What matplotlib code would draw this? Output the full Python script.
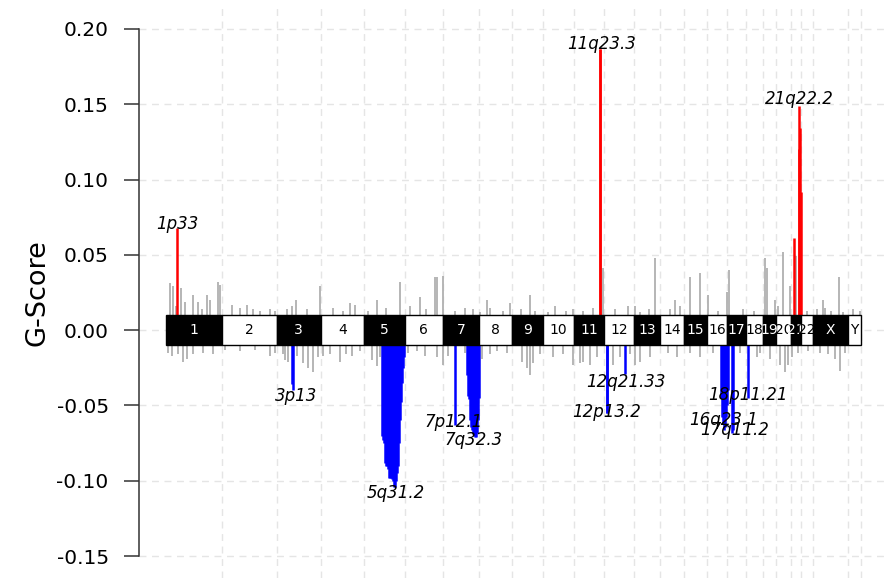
import numpy as np
from matplotlib import pyplot as plt

# chromosome lengths (Mb, hg19)
chroms = ['1', '2', '3', '4', '5', '6', '7', '8', '9', '10', '11', '12',
          '13', '14', '15', '16', '17', '18', '19', '20', '21', '22', 'X', 'Y']
chrom_len = [249.25, 243.2, 198.0, 191.15, 180.9, 171.1, 159.1, 146.4, 141.2,
             135.5, 135.0, 133.85, 115.2, 107.3, 102.5, 90.35, 81.2, 78.1,
             59.1, 63.0, 48.1, 51.3, 155.3, 59.4]

# background G-scores (genome position in Mb, G-score)
amp_pos = [18, 31, 45, 67, 85, 120, 143, 160, 183, 196, 232, 241, 294, 330,
           361, 388, 419, 463, 486, 539, 561, 579, 628, 686, 744, 790, 820,
           842, 900, 940, 980, 1042, 1087, 1131, 1160, 1198, 1207, 1234, 1287,
           1332, 1367, 1400, 1430, 1443, 1500, 1532, 1580, 1621, 1644, 1700,
           1733, 1780, 1813, 1857, 1900, 1946, 2000, 2058, 2089, 2111, 2150,
           2178, 2245, 2267, 2289, 2334, 2378, 2414, 2460, 2499, 2508, 2570,
           2620, 2668, 2677, 2713, 2726, 2748, 2779, 2806, 2855, 2900, 2926,
           2935, 2960, 2998, 3015, 3060, 3091]
amp_g = [0.031, 0.029, 0.016, 0.028, 0.019, 0.023, 0.019, 0.014, 0.023, 0.020,
         0.032, 0.030, 0.017, 0.015, 0.017, 0.014, 0.013, 0.014, 0.013, 0.014,
         0.016, 0.020, 0.014, 0.029, 0.015, 0.013, 0.018, 0.017, 0.013, 0.020,
         0.015, 0.032, 0.016, 0.022, 0.014, 0.035, 0.035, 0.036, 0.013, 0.015,
         0.014, 0.012, 0.020, 0.015, 0.013, 0.018, 0.014, 0.023, 0.013, 0.012,
         0.016, 0.013, 0.014, 0.013, 0.015, 0.041, 0.014, 0.016, 0.016, 0.012,
         0.014, 0.048, 0.014, 0.020, 0.016, 0.035, 0.038, 0.023, 0.013, 0.025,
         0.040, 0.014, 0.013, 0.048, 0.041, 0.020, 0.016, 0.052, 0.029, 0.049,
         0.013, 0.014, 0.020, 0.015, 0.013, 0.035, 0.012, 0.014, 0.013]

del_pos = [9, 27, 53, 76, 94, 120, 165, 209, 263, 330, 396, 463, 486, 521,
           530, 543, 583, 610, 632, 655, 677, 699, 730, 775, 802, 828, 864,
           918, 940, 953, 1078, 1118, 1154, 1207, 1234, 1256, 1332, 1407, 1443,
           1474, 1519, 1586, 1608, 1621, 1635, 1666, 1724, 1768, 1813, 1844,
           1857, 1888, 1920, 1991, 2022, 2067, 2089, 2111, 2156, 2236, 2276,
           2334, 2378, 2436, 2557, 2633, 2646, 2690, 2735, 2757, 2770, 2788,
           2815, 2860, 2913, 2949, 2980, 3002, 3024]
del_g = [-0.015, -0.017, -0.016, -0.021, -0.019, -0.016, -0.015, -0.016,
         -0.013, -0.014, -0.013, -0.017, -0.015, -0.016, -0.020, -0.021,
         -0.017, -0.022, -0.025, -0.028, -0.018, -0.017, -0.016, -0.021,
         -0.016, -0.017, -0.014, -0.020, -0.024, -0.018, -0.015, -0.014,
         -0.017, -0.018, -0.023, -0.017, -0.015, -0.019, -0.016, -0.014,
         -0.015, -0.021, -0.025, -0.030, -0.022, -0.016, -0.018, -0.016,
         -0.023, -0.022, -0.021, -0.023, -0.018, -0.023, -0.018, -0.016,
         -0.023, -0.021, -0.018, -0.015, -0.018, -0.015, -0.018, -0.015,
         -0.015, -0.018, -0.015, -0.019, -0.023, -0.028, -0.023, -0.018,
         -0.015, -0.014, -0.015, -0.016, -0.019, -0.027, -0.015]

# significant amplification peaks (red)
sig_amp_pos = [51, 1932, 1935, 2797, 2817, 2820, 2824, 2828]
sig_amp_g = [0.068, 0.187, 0.187, 0.061, 0.120, 0.149, 0.134, 0.092]

# significant deletion regions (blue)
sig_del_pos = [562, 566,
               962, 966, 971, 975, 980, 984, 989, 993, 997, 1002, 1006, 1011,
               1015, 1020, 1024, 1029, 1033, 1037, 1042, 1046, 1051, 1055, 1060,
               1287,
               1341, 1345, 1350, 1354, 1359, 1363, 1368, 1372, 1377, 1381, 1385,
               1390, 1394,
               1962, 1965, 2044,
               2472, 2476, 2481, 2485, 2490, 2494, 2499, 2503,
               2523, 2527, 2592]
sig_del_g = [-0.036, -0.040,
             -0.070, -0.073, -0.075, -0.088, -0.090, -0.090, -0.092, -0.098,
             -0.098, -0.098, -0.099, -0.100, -0.104, -0.104, -0.100, -0.095,
             -0.090, -0.075, -0.060, -0.048, -0.035, -0.025, -0.018,
             -0.063,
             -0.030, -0.044, -0.046, -0.060, -0.064, -0.066, -0.069, -0.070,
             -0.071, -0.071, -0.068, -0.060, -0.045,
             -0.055, -0.055, -0.029,
             -0.045, -0.058, -0.062, -0.066, -0.064, -0.058, -0.050, -0.040,
             -0.068, -0.066, -0.045]

# peak labels: text, genome position (Mb), G-score where the text sits
lab_text = ['1p33', '11q23.3', '21q22.2', '3p13', '5q31.2', '7p12.1', '7q32.3',
            '12p13.2', '12q21.33', '16q23.1', '17q11.2', '18p11.21']
lab_pos = [53, 1940, 2822, 579, 1024, 1283, 1372, 1964, 2049, 2485, 2534, 2592]
lab_g = [0.0704, 0.190, 0.1534, -0.0438, -0.1083, -0.0611, -0.0731, -0.0545,
         -0.0345, -0.0598, -0.0664, -0.0432]

yticks = [-0.15, -0.10, -0.05, 0.00, 0.05, 0.10, 0.15, 0.20]

starts = np.concatenate([[0], np.cumsum(chrom_len)[:-1]])
ends = np.cumsum(chrom_len)

fig = plt.figure(figsize=(8.89, 5.78), dpi=100)
ax = fig.add_axes([139 / 889, 0, 750 / 889, 570 / 578])

# grid
for e in ends:
    ax.axvline(e, color='#e5e5e5', lw=1, ls=(0, (5, 4)), zorder=0)
for t in yticks:
    ax.axhline(t, color='#e5e5e5', lw=1, ls=(0, (5, 4)), zorder=0)

# background scores
ax.vlines(amp_pos, 0, amp_g, color='#b0b0b0', lw=1.3, zorder=1)
ax.vlines(del_pos, 0, del_g, color='#b0b0b0', lw=1.3, zorder=1)

# significant regions
ax.vlines(sig_amp_pos, 0, sig_amp_g, color='#ff0000', lw=1.8, zorder=2)
ax.vlines(sig_del_pos, 0, sig_del_g, color='#0000ff', lw=1.8, zorder=2)

# chromosome band
for i, name in enumerate(chroms):
    black = (i % 2 == 0)
    ax.bar(starts[i], 0.02, width=chrom_len[i], bottom=-0.01, align='edge',
           color='black' if black else 'white', edgecolor='black', lw=1,
           zorder=3)
    ax.text((starts[i] + ends[i]) / 2, 0, name, ha='center', va='center',
            fontsize=10, color='white' if black else 'black', zorder=4)

for t, x, y in zip(lab_text, lab_pos, lab_g):
    ax.text(x, y, t, ha='center', va='center', fontsize=12, style='italic',
            zorder=5)

ax.set_xlim(-120, 3220)
ax.set_ylim(-0.1646, 0.2139)
ax.set_xticks([])
ax.set_yticks(yticks)
ax.set_yticklabels(['%.2f' % t for t in yticks], fontsize=14.5)
ax.tick_params(axis='y', direction='out', length=10.8, width=1.1, pad=11,
               color='#333333')
for s in ['top', 'right', 'bottom']:
    ax.spines[s].set_visible(False)
ax.spines['left'].set_bounds(-0.15, 0.20)
ax.spines['left'].set_color('#333333')
ax.spines['left'].set_linewidth(1.1)

ax.text(-0.135, 0.5, 'G-Score', transform=ax.transAxes, rotation=90,
        ha='center', va='center', fontsize=19.5)

plt.savefig('out.png', dpi=100)
